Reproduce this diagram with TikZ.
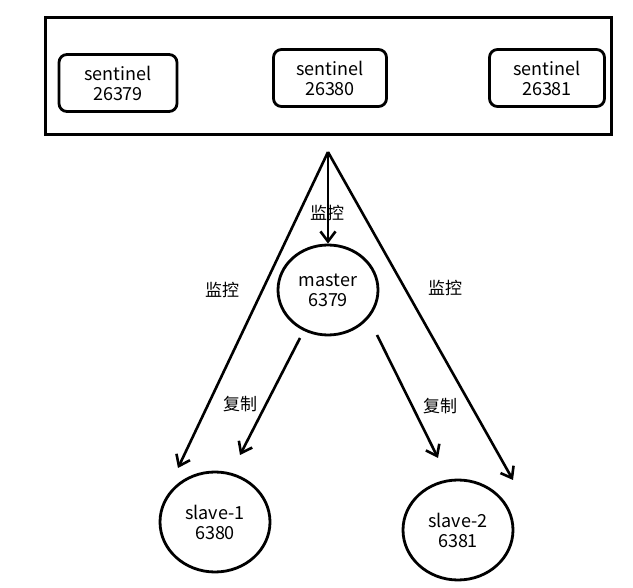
\documentclass[tikz,border=0pt]{standalone}
\usepackage{fontspec}
\setmainfont{Noto Sans CJK SC}
\usetikzlibrary{shapes.geometric,arrows.meta}
\begin{document}
\begin{tikzpicture}[x=1pt,y=-1pt,
  box/.style={draw,line width=2.8pt,rounded corners=8pt,minimum width=118pt,minimum height=57pt,align=center,font=\fontsize{18}{20}\selectfont},
  ell/.style={draw,ellipse,line width=2.8pt,align=center,font=\fontsize{18}{20}\selectfont,inner sep=0pt},
  arr/.style={line width=2.6pt,-{Straight Barb[length=10pt,width=15pt,line width=2.6pt]}},
  lab/.style={font=\fontsize{17}{18}\selectfont}]
\useasboundingbox (0,0) rectangle (633,588);
\node[draw,line width=3pt,minimum width=566pt,minimum height=117pt] (outer) at (328,76.5) {};
\node[box] (s1) at (118,83) {sentinel\\26379};
\node[box,minimum width=113pt] (s2) at (330,78) {sentinel\\26380};
\node[box,minimum width=115pt] (s3) at (547,78) {sentinel\\26381};
\node[ell,minimum width=100pt,minimum height=90pt] (m) at (328,290) {master\\6379};
\node[ell,minimum width=110pt,minimum height=100pt] (a) at (215,522) {slave-1\\6380};
\node[ell,minimum width=110pt,minimum height=100pt] (b) at (458,530) {slave-2\\6381};
\coordinate (top) at (328,152);
\coordinate (ea) at (178,468);
\coordinate (eb) at (513,480);
\coordinate (m1) at (300,338);
\coordinate (m2) at (377,335);
\coordinate (ca) at (240,455);
\coordinate (cb) at (438,458);
\draw[arr] (top) -- (m.north);
\draw[arr] (top) -- (ea);
\draw[arr] (top) -- (eb);
\draw[arr] (m1) -- (ca);
\draw[arr] (m2) -- (cb);
\node[lab] (l1) at (327,213) {监控};
\node[lab] (l2) at (222,290) {监控};
\node[lab] (l3) at (445,288) {监控};
\node[lab] (l4) at (240,404) {复制};
\node[lab] (l5) at (440,406) {复制};
\end{tikzpicture}
\end{document}
